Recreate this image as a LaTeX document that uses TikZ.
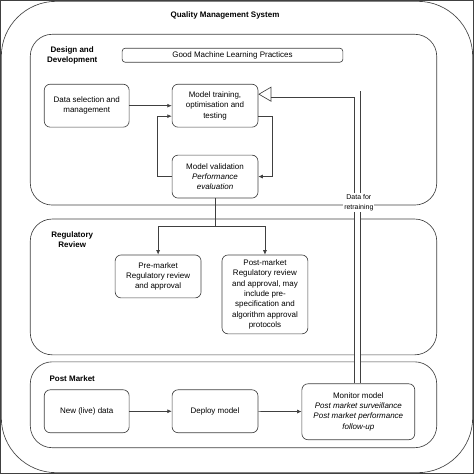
\documentclass[tikz,border=0pt]{standalone}
\usepackage{fontspec}
\setmainfont{Liberation Sans}
\usetikzlibrary{arrows.meta}
\begin{document}
\begin{tikzpicture}[x=1pt,y=-1pt,
    >={Latex[length=4.5pt,width=4pt]},
    every path/.style={draw=black!75,line width=0.65pt},
    box/.style={draw=black!75,rounded corners=6pt,align=center,inner sep=1pt,
      font=\fontsize{8pt}{10.3pt}\selectfont},
    section/.style={draw=black!75,rounded corners=22pt},
    heading/.style={align=center,inner sep=0pt,font=\fontsize{8pt}{10.3pt}\selectfont\bfseries},
    retrain/.style={double=white,double distance=5.5pt,line width=0.65pt,shorten >=13pt},
    hollowtip/.style={draw=white,-{Triangle[open,length=13pt,width=15pt,line width=0.65pt,black!75]}}]
    \useasboundingbox (0,0) rectangle (474,474);
    \draw[rounded corners=55pt] (1,1) rectangle (473,473);
    \node[heading] (qms) at (225,15) {Quality Management System};

    \node[section,minimum width=407pt,minimum height=171pt] (design) at (233.5,119.5) {};
    \node[section,minimum width=407pt,minimum height=136pt] (review) at (233.5,287) {};
    \node[section,minimum width=407pt,minimum height=86pt] (market) at (233.5,405) {};
    \node[heading] (designlbl) at (72,55.5) {Design and\\Development};
    \node[heading] (reviewlbl) at (72,240) {Regulatory\\Review};
    \node[heading] (marketlbl) at (72,379) {Post Market};

    \node[box,rounded corners=3pt,minimum width=221pt,minimum height=14pt] (gmlp) at (232.5,55) {Good Machine Learning Practices};
    \node[box,minimum width=85pt,minimum height=43pt] (data) at (86.5,105.5) {Data selection and\\management};
    \node[box,minimum width=86pt,minimum height=43pt] (train) at (215,105.5) {Model training,\\optimisation and\\testing};
    \node[box,minimum width=86pt,minimum height=43pt] (val) at (215,176.5) {Model validation\\\textit{Performance}\\\textit{evaluation}};
    \node[box,minimum width=86pt,minimum height=43pt] (pre) at (158,276.5) {Pre-market\\Regulatory review\\and approval};
    \node[box,minimum width=86pt,minimum height=79pt] (post) at (265,294.5) {Post-market\\Regulatory review\\and approval, may\\include pre-\\specification and\\algorithm approval\\protocols};
    \node[box,minimum width=85pt,minimum height=43pt] (new) at (86.5,411.5) {New (live) data};
    \node[box,minimum width=86pt,minimum height=43pt] (deploy) at (215,411.5) {Deploy model};
    \node[box,minimum width=113pt,minimum height=56pt] (monitor) at (358.5,412) {Monitor model\\\textit{Post market surveillance}\\\textit{Post market performance}\\\textit{follow-up}};

    \draw[->] (data) to (train);
    \draw[->] (val.west) -- ++(-14,0) |- ([yshift=-10.5pt]train.west);
    \draw[->] ([yshift=-10.5pt]train.east) -- ++(14,0) |- (val.east);
    \draw[->] (val.south) -- ++(0,28) -| (pre.north);
    \draw[->] (val.south) -- ++(0,28) -| (post.north);
    \draw[->] (new) to (deploy); \draw[->] (deploy) to (monitor);
    \draw[retrain] ([xshift=-1pt]monitor.north) |- ([yshift=11.5pt]train.east);
    \draw[hollowtip] ([xshift=13pt,yshift=11.5pt]train.east) -- ([yshift=11.5pt]train.east);
    \node[fill=white,align=center,inner sep=1pt,font=\fontsize{7pt}{10pt}\selectfont] (retrainlbl) at (359,202.5) {Data for\\retraining};
\end{tikzpicture}
\end{document}
